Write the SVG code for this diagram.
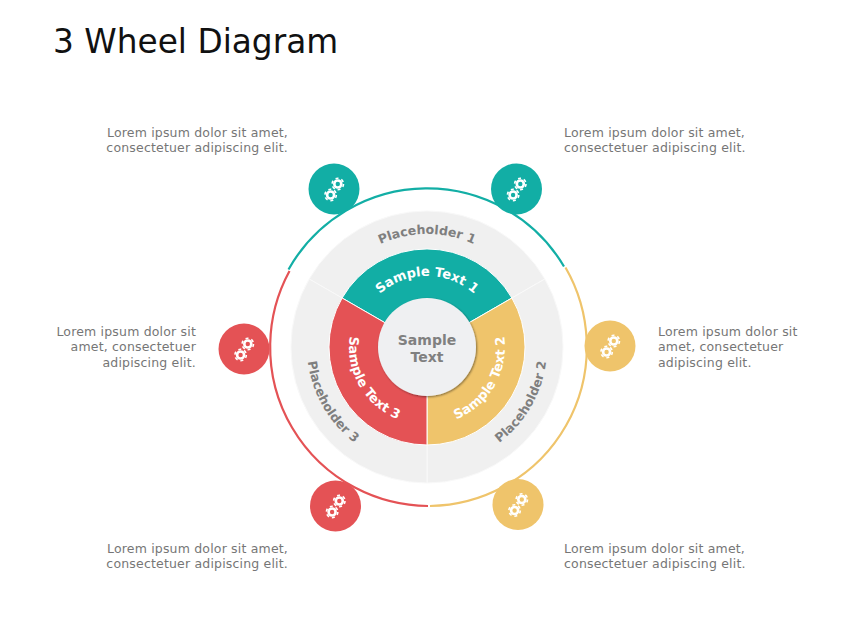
<svg xmlns="http://www.w3.org/2000/svg" width="853" height="640" viewBox="0 0 853 640">
<style>
.title{font:32.800px "DejaVu Sans",sans-serif;fill:#111}
.body{font:12.500px "DejaVu Sans",sans-serif;letter-spacing:.18px;fill:#767676}
.r{text-anchor:end}
.ph{font:bold 12.500px "DejaVu Sans",sans-serif;fill:#7f7f7f;text-anchor:middle}
.st{font:bold 13px "DejaVu Sans",sans-serif;fill:#fff;text-anchor:middle}
.c{font:bold 14px "DejaVu Sans",sans-serif;fill:#808080;text-anchor:middle}
.ring{fill:none;stroke-width:2.2}
.teal{fill:#12aea5}.red{fill:#e45255}.yellow{fill:#efc46b}
.g{fill:#f0f0f0;stroke:#f9f9f9;stroke-width:1}
</style>
<defs>
<filter id="sh" x="-20%" y="-20%" width="140%" height="140%"><feDropShadow dx="1" dy="1" stdDeviation="1.2" flood-color="#000" flood-opacity="0.45"/></filter>
<g id="gear"><circle r="3.5" fill="none" stroke="#fff" stroke-width="2.6"/><circle r="5.7" fill="none" stroke="#fff" stroke-width="1.6" stroke-dasharray="3 2.97"/></g>
<g id="gears"><use href="#gear" x="3.8" y="-5"/><use href="#gear" x="-3.4" y="6"/></g>
<path id="p1" d="M329.100 290.500A113 113 0 0 1 524.900 290.500"/>
<path id="p2" d="M427 467A120 120 0 0 0 530.900 287"/>
<path id="p3" d="M323.100 287A120 120 0 0 0 427 467"/>
<path id="s1" d="M365.500 311.500A71 71 0 0 1 488.500 311.500"/>
<path id="s2" d="M427 425A78 78 0 0 0 494.500 308"/>
<path id="s3" d="M359.500 308A78 78 0 0 0 427 425"/>
</defs>
<rect width="853" height="640" fill="#fff"/>
<text class="title" x="53" y="53">3 Wheel Diagram</text>

<g id="connectors">
<path class="ring" stroke="#12aea5" d="M288.500 269.500A159 159 0 0 1 564 266.500"/>
<path class="ring" stroke="#efc46b" d="M565.500 267.500A159 159 0 0 1 430 506"/>
<path class="ring" stroke="#e45255" d="M428 506A159 159 0 0 1 289.500 271"/>
</g>

<g id="wheel-outer">
<path class="g" d="M309.200 279L427 347L544.800 279A136 136 0 0 0 309.200 279Z"/>
<path class="g" d="M544.800 279L427 347V483A136 136 0 0 0 544.800 279Z"/>
<path class="g" d="M427 483V347L309.200 279A136 136 0 0 0 427 483Z"/>
<text class="ph"><textPath href="#p1" startOffset="50%">Placeholder 1</textPath></text>
<text class="ph"><textPath href="#p2" startOffset="50%">Placeholder 2</textPath></text>
<text class="ph"><textPath href="#p3" startOffset="50%">Placeholder 3</textPath></text>
</g>

<g id="wheel-inner">
<path class="teal" stroke="#fff" stroke-width="1" d="M342.100 298L427 347L511.900 298A98 98 0 0 0 342.100 298Z"/>
<path class="yellow" stroke="#fff" stroke-width="1" d="M511.900 298L427 347V445A98 98 0 0 0 511.900 298Z"/>
<path class="red" stroke="#fff" stroke-width="1" d="M427 445V347L342.100 298A98 98 0 0 0 427 445Z"/>
<text class="st"><textPath href="#s1" startOffset="50%">Sample Text 1</textPath></text>
<text class="st"><textPath href="#s2" startOffset="50%">Sample Text 2</textPath></text>
<text class="st"><textPath href="#s3" startOffset="50%">Sample Text 3</textPath></text>
</g>

<g id="center">
<circle cx="427" cy="347" r="49" fill="#eff0f2" filter="url(#sh)"/>
<text class="c"><tspan x="427" y="345">Sample</tspan><tspan x="427" y="362">Text</tspan></text>
</g>

<g id="icon-1"><circle class="teal" cx="334" cy="189" r="25.500"/><use href="#gears" x="334" y="189"/></g>
<g id="icon-2"><circle class="teal" cx="516.500" cy="189" r="25.500"/><use href="#gears" x="516.500" y="189"/></g>
<g id="icon-3"><circle class="yellow" cx="610" cy="346" r="25.500"/><use href="#gears" x="610" y="346"/></g>
<g id="icon-4"><circle class="yellow" cx="518" cy="504.500" r="25.500"/><use href="#gears" x="518" y="504.500"/></g>
<g id="icon-5"><circle class="red" cx="335.500" cy="506" r="25.500"/><use href="#gears" x="335.500" y="506"/></g>
<g id="icon-6"><circle class="red" cx="244" cy="349" r="25.500"/><use href="#gears" x="244" y="349"/></g>

<g id="label-tl"><text class="body r"><tspan x="288" y="137">Lorem ipsum dolor sit amet,</tspan><tspan x="288" y="152">consectetuer adipiscing elit.</tspan></text></g>
<g id="label-tr"><text class="body"><tspan x="564" y="137">Lorem ipsum dolor sit amet,</tspan><tspan x="564" y="152">consectetuer adipiscing elit.</tspan></text></g>
<g id="label-ml"><text class="body r"><tspan x="196" y="336">Lorem ipsum dolor sit</tspan><tspan x="196" y="351">amet, consectetuer</tspan><tspan x="196" y="367">adipiscing elit.</tspan></text></g>
<g id="label-mr"><text class="body"><tspan x="658" y="336">Lorem ipsum dolor sit</tspan><tspan x="658" y="351">amet, consectetuer</tspan><tspan x="658" y="367">adipiscing elit.</tspan></text></g>
<g id="label-bl"><text class="body r"><tspan x="288" y="553">Lorem ipsum dolor sit amet,</tspan><tspan x="288" y="568">consectetuer adipiscing elit.</tspan></text></g>
<g id="label-br"><text class="body"><tspan x="564" y="553">Lorem ipsum dolor sit amet,</tspan><tspan x="564" y="568">consectetuer adipiscing elit.</tspan></text></g>
</svg>
